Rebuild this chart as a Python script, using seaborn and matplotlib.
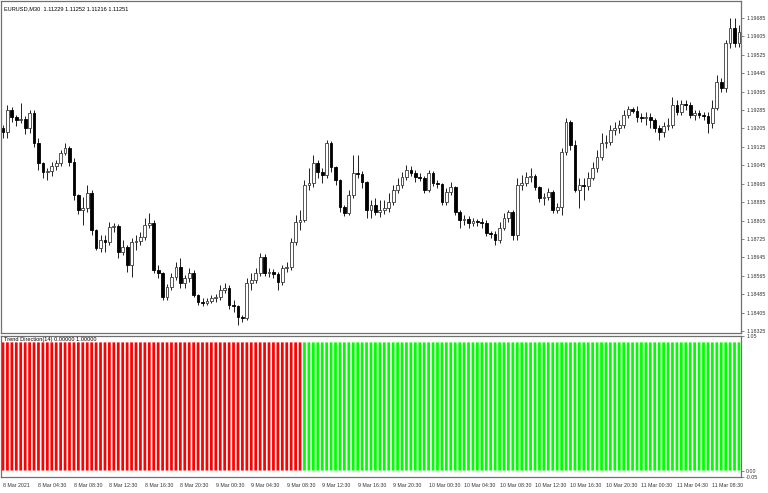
import numpy as np
import pandas as pd
import matplotlib
matplotlib.use("Agg")
import matplotlib.pyplot as plt
import seaborn as sns

symbol_info = "EURUSD,M30  1.11229 1.11252 1.11216 1.11251"
indicator_info = "Trend Direction(14) 0.00000 1.00000"

# price axis labels (right side)
price_ticks = [1.19685, 1.19605, 1.19525, 1.19445, 1.19365, 1.19285, 1.19205,
               1.19125, 1.19045, 1.18965, 1.18885, 1.18805, 1.18725, 1.18645,
               1.18565, 1.18485, 1.18405, 1.18325]

time_labels = ["8 Mar 2021", "8 Mar 04:30", "8 Mar 08:30", "8 Mar 12:30",
               "8 Mar 16:30", "8 Mar 20:30", "9 Mar 00:30", "9 Mar 04:30",
               "9 Mar 08:30", "9 Mar 12:30", "9 Mar 16:30", "9 Mar 20:30",
               "10 Mar 00:30", "10 Mar 04:30", "10 Mar 08:30", "10 Mar 12:30",
               "10 Mar 16:30", "10 Mar 20:30", "11 Mar 00:30", "11 Mar 04:30",
               "11 Mar 08:30"]
time_label_bars = [0, 8, 16, 24, 32, 40, 48, 56, 64, 72, 80, 88, 96, 104, 112,
                   120, 128, 136, 144, 152, 160]

first_open = 119207
# closes, in points (1e-5)
close_pts = [
    119190, 119285, 119255, 119242, 119246, 119207, 119272, 119142, 119055, 119016,
    119020, 119042, 119055, 119098, 119120, 119059, 118916, 118851, 118859, 118925,
    118764, 118686, 118720, 118712, 118777, 118781, 118668, 118690, 118612, 118712,
    118716, 118733, 118786, 118794, 118590, 118577, 118473, 118516, 118560, 118603,
    118534, 118555, 118577, 118481, 118451, 118447, 118455, 118468, 118473, 118503,
    118512, 118438, 118434, 118386, 118382, 118534, 118547, 118577, 118647, 118577,
    118581, 118573, 118538, 118599, 118603, 118712, 118799, 118807, 118959, 118968,
    119055, 119016, 119003, 119142, 119038, 118981, 118864, 118838, 118916, 119012,
    119007, 118972, 118851, 118873, 118842, 118851, 118859, 118886, 118938, 118959,
    118994, 119025, 119012, 118994, 118990, 118938, 119012, 118968, 118964, 118886,
    118929, 118951, 118842, 118807, 118812, 118794, 118803, 118799, 118794, 118751,
    118746, 118720, 118773, 118816, 118842, 118742, 118959, 118968, 118994, 118999,
    118951, 118903, 118907, 118929, 118851, 118864, 119103, 119233, 119133, 118938,
    118959, 118955, 118990, 119033, 119081, 119142, 119146, 119198, 119207, 119220,
    119264, 119290, 119281, 119255, 119251, 119255, 119242, 119207, 119190, 119216,
    119220, 119307, 119277, 119311, 119307, 119264, 119272, 119264, 119259, 119229,
    119294, 119407, 119381, 119576, 119642, 119576, 119624,
]
# upper / lower shadow beyond the body, in points
wick_up = [
    13, 22, 13, 9, 70, 13, 13, 13, 22, 4,
    13, 17, 13, 13, 22, 9, 17, 4, 48, 35,
    13, 4, 22, 22, 22, 13, 9, 30, 9, 17,
    26, 22, 30, 43, 13, 22, 4, 13, 17, 22,
    39, 13, 22, 13, 4, 17, 13, 13, 13, 22,
    22, 13, 22, 4, 9, 22, 30, 22, 17, 13,
    17, 13, 9, 13, 22, 17, 30, 43, 22, 65,
    35, 13, 17, 13, 9, 4, 4, 9, 22, 78,
    78, 13, 4, 22, 30, 43, 35, 39, 22, 30,
    22, 22, 17, 13, 17, 9, 13, 9, 13, 4,
    17, 22, 4, 9, 17, 13, 13, 9, 17, 13,
    9, 13, 26, 22, 9, 9, 30, 35, 22, 35,
    9, 4, 17, 17, 9, 17, 17, 17, 9, 22,
    30, 30, 26, 26, 30, 43, 30, 22, 26, 22,
    22, 13, 9, 22, 17, 22, 17, 9, 13, 17,
    30, 35, 22, 17, 17, 13, 13, 13, 13, 17,
    35, 30, 17, 13, 43, 43, 30,
]
wick_dn = [
    26, 26, 22, 26, 13, 26, 22, 17, 30, 26,
    35, 22, 17, 13, 9, 17, 22, 17, 65, 17,
    22, 9, 17, 43, 13, 22, 26, 13, 30, 52,
    35, 17, 13, 13, 13, 22, 13, 13, 13, 13,
    22, 22, 17, 9, 13, 13, 9, 9, 17, 13,
    13, 17, 26, 35, 17, 9, 30, 13, 13, 13,
    17, 17, 35, 13, 17, 13, 13, 35, 9, 22,
    17, 26, 35, 13, 22, 22, 22, 13, 9, 13,
    17, 26, 35, 35, 13, 22, 17, 17, 13, 13,
    13, 13, 13, 22, 13, 13, 9, 13, 17, 13,
    13, 13, 13, 35, 22, 22, 13, 17, 22, 13,
    17, 22, 13, 9, 17, 22, 22, 22, 13, 22,
    13, 17, 30, 13, 13, 13, 35, 13, 22, 9,
    78, 61, 17, 9, 17, 13, 22, 13, 22, 22,
    13, 13, 9, 22, 17, 30, 35, 17, 35, 22,
    17, 13, 13, 13, 22, 13, 22, 13, 17, 43,
    22, 9, 17, 17, 22, 17, 17,
]
# Trend Direction histogram: red bars then green bars
trend_dir = ["down"] * 68 + ["up"] * 99

n = len(close_pts)
close = np.array(close_pts) / 1e5
open_ = np.r_[first_open, close_pts[:-1]] / 1e5
high = np.maximum(open_, close) + np.array(wick_up) / 1e5
low = np.minimum(open_, close) - np.array(wick_dn) / 1e5
bars = np.arange(n)

sns.set_style("white")
plt.rcParams["font.family"] = ["Liberation Sans", "DejaVu Sans"]

fig = plt.figure(figsize=(7.68, 4.93), dpi=100)
ax1 = fig.add_axes([0.0013, 0.3245, 0.9635, 0.6734])
ax2 = fig.add_axes([0.0013, 0.0325, 0.9635, 0.2860])

x_lo, x_hi = -0.45, 166.45
spine_c = "#707070"
txt_c = "#333333"
fs = 3.8

# candles
ax1.vlines(bars, low, high, color="#202020", linewidth=0.7, zorder=1)
up = close >= open_
body_lo = np.minimum(open_, close)
body_h = np.maximum(np.abs(close - open_), 0.000015)
ax1.bar(bars[up], body_h[up], bottom=body_lo[up], width=0.62,
        color="white", edgecolor="#3a3a3a", linewidth=0.6, zorder=2)
ax1.bar(bars[~up], body_h[~up], bottom=body_lo[~up], width=0.62,
        color="black", edgecolor="black", linewidth=0.6, zorder=2)

ax1.set_xlim(x_lo, x_hi)
ax1.set_ylim(1.18316, 1.19759)
ax1.yaxis.tick_right()
ax1.set_yticks(price_ticks)
ax1.set_yticklabels([f"{p:.5f}" for p in price_ticks])
ax1.tick_params(axis="y", direction="out", length=2.5, width=0.6,
                labelsize=fs, colors=spine_c, labelcolor=txt_c, pad=1.2)
ax1.set_xticks([])
ax1.text(0.004, 0.985, symbol_info, transform=ax1.transAxes,
         fontsize=fs + 0.3, color="black", va="top", ha="left")

# trend direction histogram
df = pd.DataFrame({"bar": bars, "value": 1.0, "direction": trend_dir})
sns.barplot(data=df, x="bar", y="value", hue="direction", native_scale=True,
            palette={"down": "#ff0000", "up": "#00ff00"}, dodge=False,
            width=0.62, saturation=1, linewidth=0, legend=False, ax=ax2,
            snap=False)
ax2.set_xlim(x_lo, x_hi)
ax2.set_ylim(-0.05, 1.05)
ax2.set_xlabel("")
ax2.set_ylabel("")
ax2.yaxis.tick_right()
ax2.set_yticks([1.05, 0.0, -0.05])
ax2.set_yticklabels(["1.05", "0.00", "-0.05"])
ax2.tick_params(axis="y", direction="out", length=2.5, width=0.6,
                labelsize=fs, colors=spine_c, labelcolor=txt_c, pad=1.2)
ax2.set_xticks(time_label_bars)
ax2.set_xticklabels(time_labels, ha="left")
ax2.tick_params(axis="x", direction="out", length=3, width=0.6,
                labelsize=fs, colors=spine_c, labelcolor=txt_c, pad=1.5)
ax2.text(0.004, 0.995, indicator_info, transform=ax2.transAxes,
         fontsize=fs + 0.3, color="black", va="top", ha="left")

for ax in (ax1, ax2):
    for s in ax.spines.values():
        s.set_color(spine_c)
        s.set_linewidth(0.9)
        s.set_visible(True)

fig.savefig("out.png", dpi=100)
